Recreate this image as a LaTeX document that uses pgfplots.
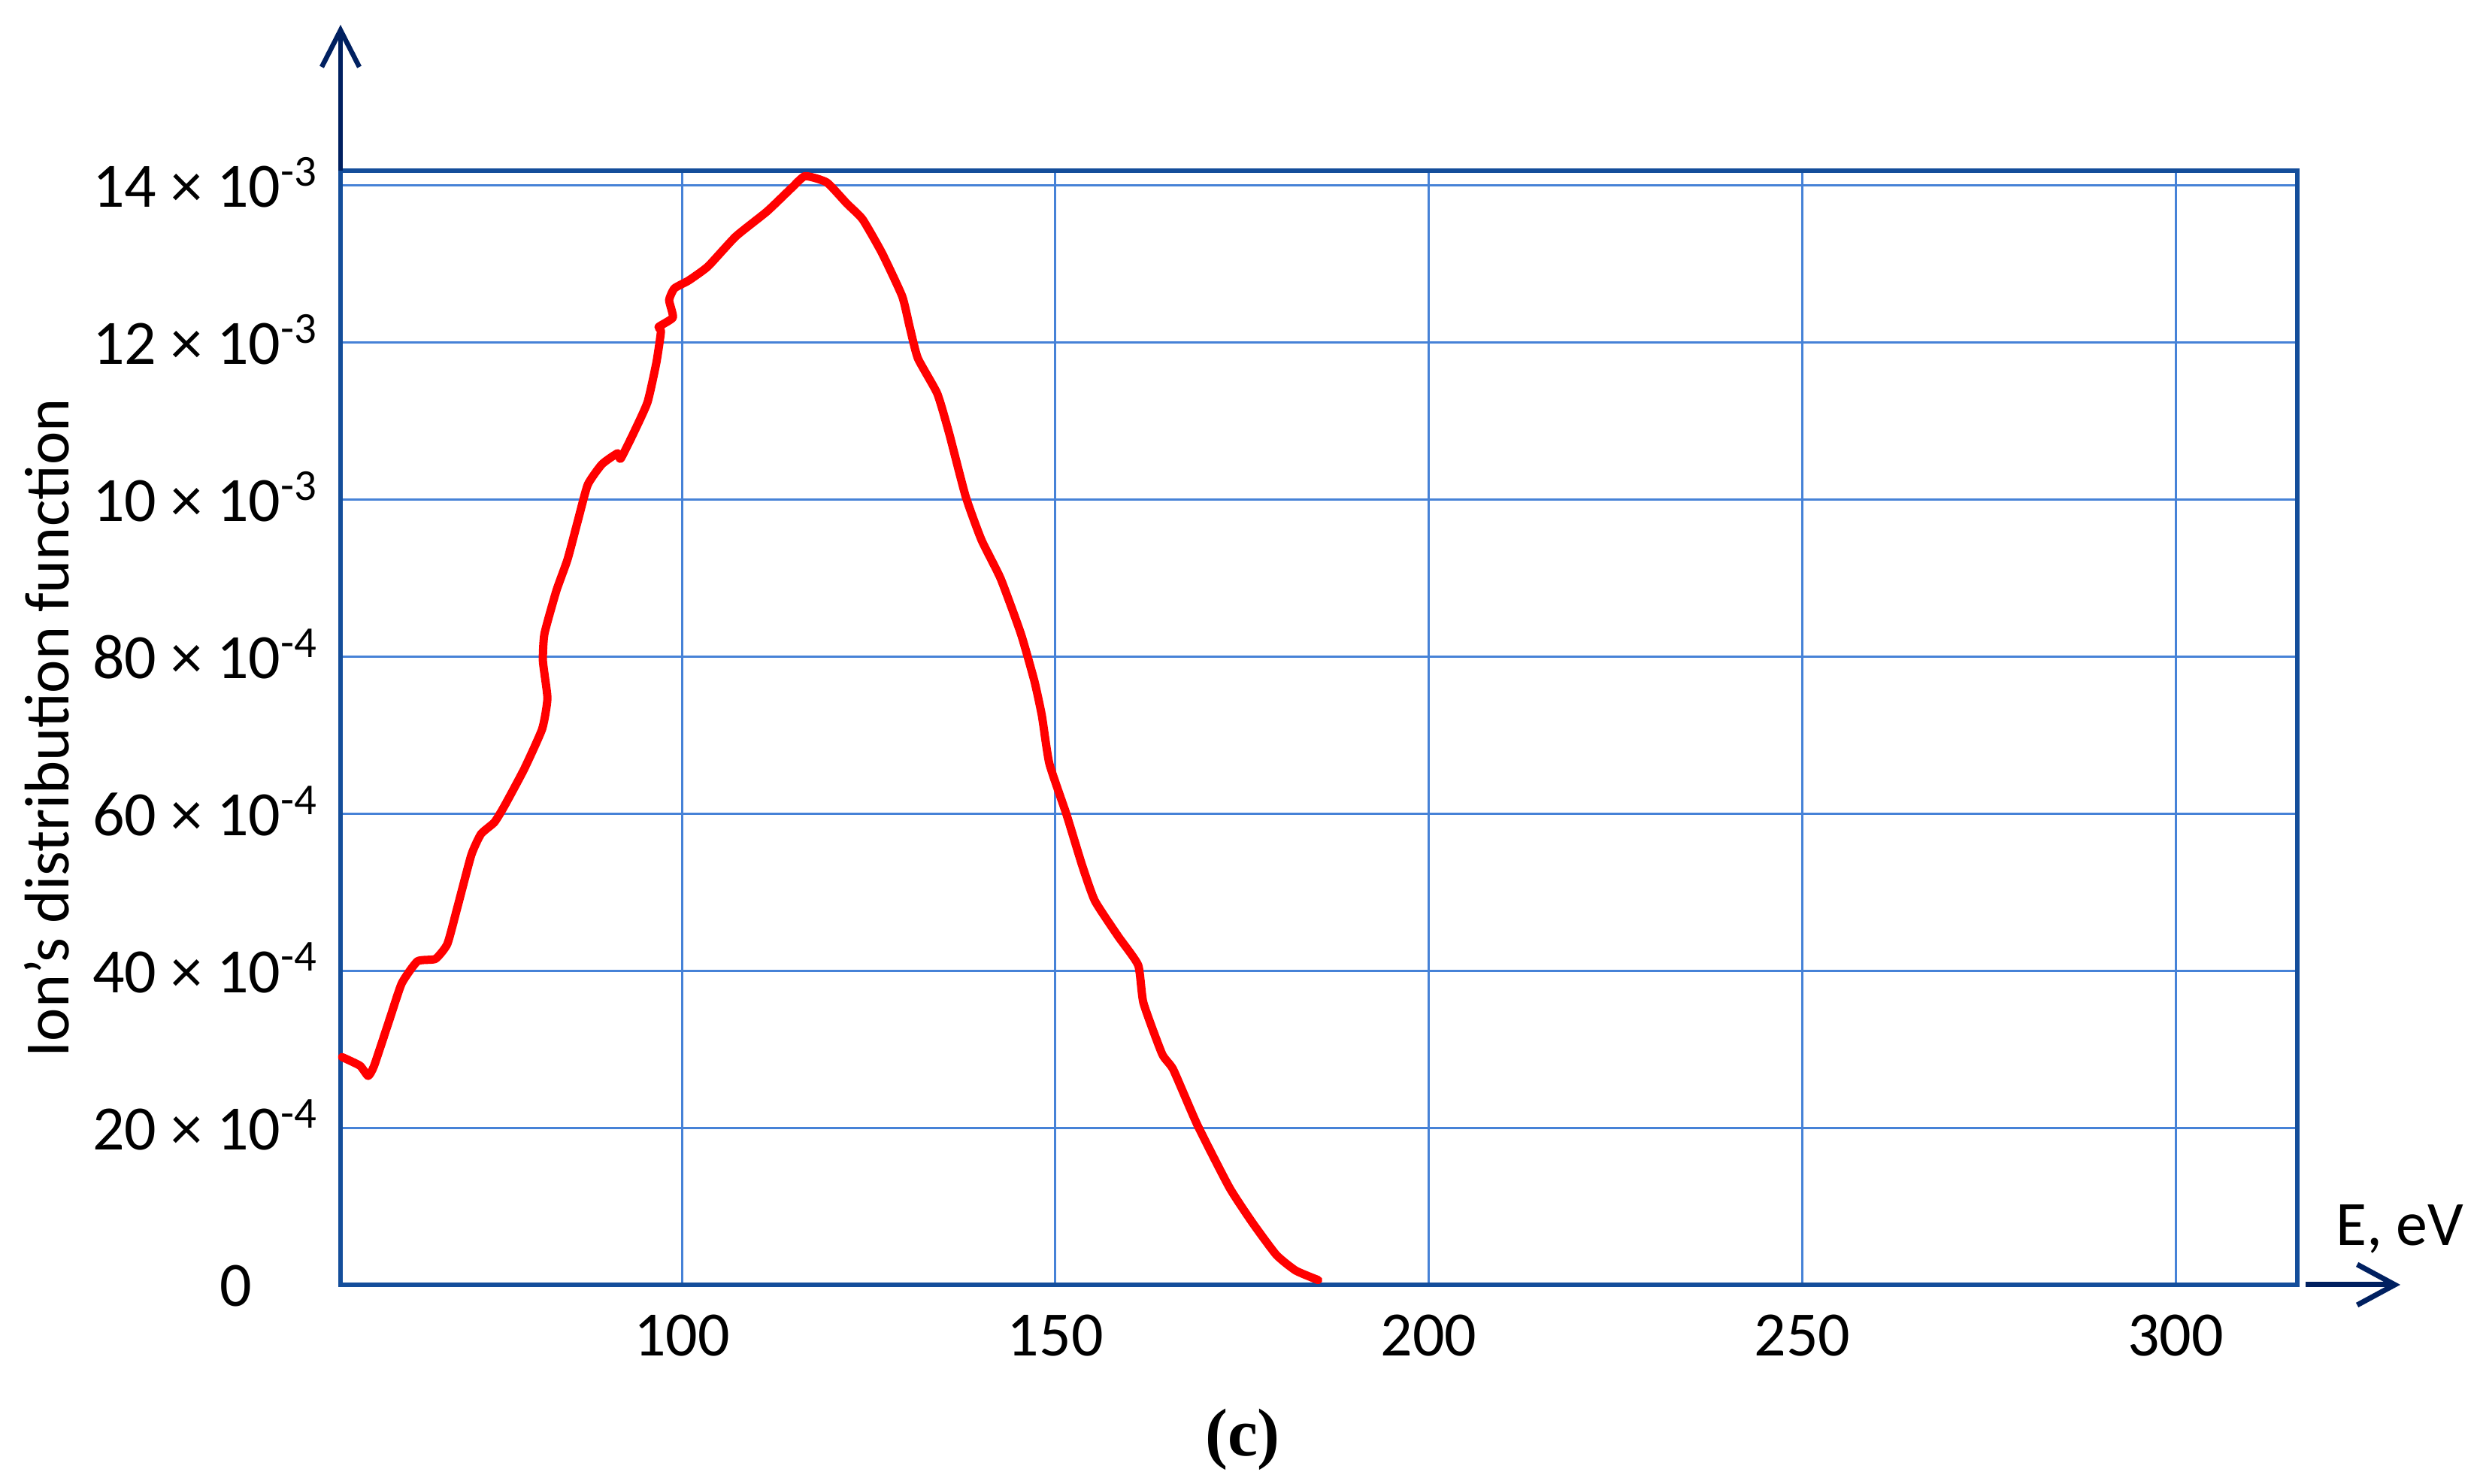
\documentclass[border=0pt]{standalone}
\usepackage{fontspec}
\setmainfont{Carlito}
\newfontfamily\capfont{Liberation Serif}
\usepackage{pgfplots}
\pgfplotsset{compat=1.18}
\usetikzlibrary{arrows.meta}
\definecolor{gridblue}{RGB}{70,130,215}
\definecolor{boxblue}{RGB}{20,78,155}
\definecolor{arrowblue}{RGB}{0,32,96}
\begin{document}
\fontsize{8.4pt}{10pt}\selectfont
\begin{tikzpicture}
\useasboundingbox (0,0) rectangle (329.9pt,197.4pt);
\begin{axis}[
  at={(45.3pt,26.5pt)}, anchor=south west,
  scale only axis, width=260.3pt, height=148.2pt,
  xmin=54.3, xmax=316.3, ymin=0, ymax=0.01419,
  clip=false,
  scaled y ticks=false, scaled x ticks=false,
  xtick={100,150,200,250,300},
  xticklabels={100,150,200,250,300},
  ytick={0,0.002,0.004,0.006,0.008,0.010,0.012,0.014},
  yticklabels={0\kern9.1pt,20 × 10\textsuperscript{-4},40 × 10\textsuperscript{-4},60 × 10\textsuperscript{-4},80 × 10\textsuperscript{-4},10 × 10\textsuperscript{-3},12 × 10\textsuperscript{-3},14 × 10\textsuperscript{-3}},
  xticklabel style={anchor=north, inner sep=0pt, yshift=-3.8pt, font=\fontsize{8.4pt}{10pt}\selectfont},
  yticklabel style={anchor=base east, inner sep=0pt, xshift=-2.5pt, yshift=-2.9pt, font=\fontsize{8.4pt}{10pt}\selectfont},
  major tick length=0pt,
  grid=major,
  major grid style={draw=gridblue, line width=0.3pt},
  axis line style={draw=boxblue, line width=0.6pt},
  tick style={draw=none},
]
\addplot[red, line width=1.1pt, smooth, tension=0.3, line join=round, line cap=round] coordinates {
(54.5,0.00290) (56.9,0.00279) (58.0,0.00266) (58.8,0.00279) (60.9,0.00339)
(62.5,0.00384) (64.6,0.00412) (67.0,0.00415) (68.6,0.00434) (69.9,0.00479)
(71.8,0.00547) (73.1,0.00574) (74.9,0.00589) (76.2,0.00609) (78.9,0.00657)
(81.3,0.00708) (82.0,0.00747) (81.4,0.00794) (81.6,0.00829) (83.2,0.00884)
(84.7,0.00924) (86.1,0.00974) (87.4,0.01019) (89.3,0.01045) (91.4,0.01059)
(91.8,0.01052) (93.5,0.01084) (95.4,0.01124) (96.6,0.01175) (97.2,0.01214)
(96.9,0.01220) (98.8,0.01232) (98.3,0.01254) (99.0,0.01269) (100.9,0.01279)
(103.5,0.01297) (107.2,0.01335) (111.4,0.01367) (114.7,0.01397) (116.5,0.01412)
(119.4,0.01404) (122.1,0.01377) (124.2,0.01357) (126.8,0.01314) (129.5,0.01259)
(130.5,0.01220) (131.6,0.01180) (134.2,0.01135) (135.8,0.01084) (138.0,0.01004)
(140.1,0.00949) (142.7,0.00899) (145.4,0.00829) (147.2,0.00769) (148.2,0.00725)
(149.2,0.00664) (151.5,0.00599) (153.6,0.00534) (155.3,0.00489) (158.4,0.00444)
(161.1,0.00407) (161.8,0.00359) (164.3,0.00294) (165.8,0.00274) (169.0,0.00204)
(173.3,0.00124) (176.4,0.00079) (179.6,0.00038) (182.2,0.00018) (185.2,0.00006)
};
\draw[arrowblue, line width=0.65pt, -{Straight Barb[length=4.9pt,width=5pt]}]
  (rel axis cs:0,1) -- ([yshift=19.4pt]rel axis cs:0,1);
\draw[arrowblue, line width=0.7pt, -{Straight Barb[length=5pt,width=5.4pt]}]
  ([xshift=1.1pt]rel axis cs:1,0) -- ([xshift=13.7pt]rel axis cs:1,0);
\node[anchor=base west, inner sep=0pt] at ([xshift=4.9pt,yshift=5.2pt]rel axis cs:1,0) {E, eV};
\node[rotate=90, anchor=base, inner sep=0pt] at ([xshift=-36.1pt]rel axis cs:0,0.5) {Ion’s distribution function};
\end{axis}
\node[anchor=base, inner sep=0pt] at (165.3pt,3.7pt) {\capfont\bfseries\fontsize{9pt}{11pt}\selectfont (c)};
\end{tikzpicture}
\end{document}
